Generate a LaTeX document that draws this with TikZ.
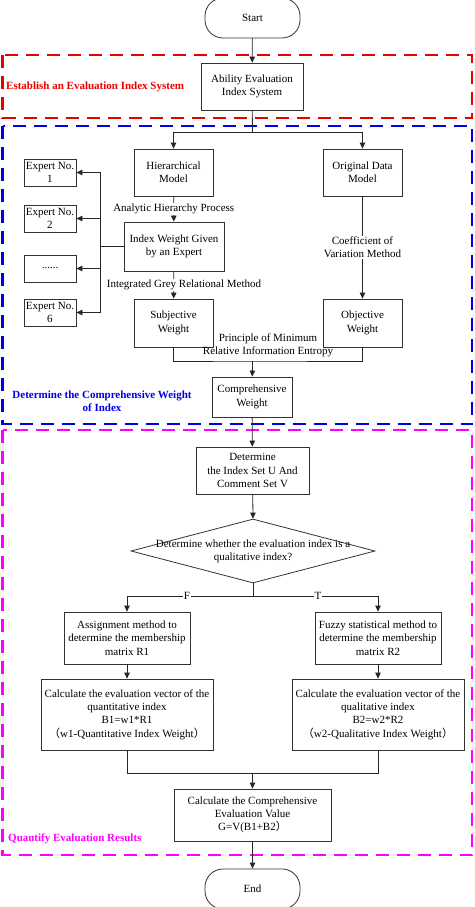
\documentclass[tikz,border=0pt]{standalone}
\usepackage{fontspec}
\setmainfont{Liberation Serif}
\newfontfamily\cjk{Noto Sans CJK SC}
\usetikzlibrary{arrows.meta,shapes.geometric}
\tikzset{
  box/.style={draw=black!80, line width=0.8pt, fill=white, align=center, inner sep=1pt},
  term/.style={box, rounded corners=18pt, minimum width=95pt, minimum height=40pt},
  arr/.style={draw=black!85, line width=0.8pt, -{Triangle[length=6pt,width=5.5pt]}},
  ln/.style={draw=black!85, line width=0.8pt},
  lab/.style={fill=white, inner sep=1pt, align=center},
  region/.style={line width=2.8pt, dash pattern=on 13pt off 8pt},
  rlab/.style={font=\fontsize{11}{13.3}\selectfont\bfseries, align=center, inner sep=0pt}
}
\begin{document}
\begin{tikzpicture}[x=1pt, y=-1pt, font=\fontsize{11}{13.3}\selectfont]
\useasboundingbox (0,0) rectangle (474,907);
% regions
\draw[region, draw={rgb,255:red,235;green,0;blue,0}] (2.5,55) rectangle (472,118);
\draw[region, draw={rgb,255:red,0;green,0;blue,230}] (2.5,126) rectangle (472,424);
\draw[region, draw={rgb,255:red,255;green,0;blue,255}] (2.5,430) rectangle (472,855);
\node[rlab, anchor=west, text={rgb,255:red,235;green,0;blue,0}] (l1) at (6,87) {Establish an Evaluation Index System};
\node[rlab, text={rgb,255:red,0;green,0;blue,230}] (l2) at (102,401.5) {Determine the Comprehensive Weight\\of Index};
\node[rlab, anchor=west, text={rgb,255:red,255;green,0;blue,255}] (l3) at (8,839) {Quantify Evaluation Results};
% nodes
\node[term] (start) at (252.5,18) {Start};
\node[box, minimum width=102pt, minimum height=47pt] (ability) at (252,86.5) {Ability Evaluation\\Index System};
\node[box, minimum width=79pt, minimum height=47pt] (hier) at (173.5,172.5) {Hierarchical\\Model};
\node[box, minimum width=79pt, minimum height=47pt] (orig) at (362.5,172.5) {Original Data\\Model};
\node[box, minimum width=100pt, minimum height=49pt] (iwe) at (174,246.5) {Index Weight Given\\by an Expert};
\node[box, minimum width=79pt, minimum height=48pt] (subj) at (173.5,323) {Subjective\\Weight};
\node[box, minimum width=79pt, minimum height=48pt] (obj) at (362.5,323) {Objective\\Weight};
\node[box, minimum width=52pt, minimum height=27pt] (e1) at (50,172.5) {Expert No.\\1};
\node[box, minimum width=52pt, minimum height=27pt] (e2) at (50,218.5) {Expert No.\\2};
\node[box, minimum width=52pt, minimum height=27pt] (edots) at (50,268.5) {......};
\node[box, minimum width=52pt, minimum height=27pt] (e6) at (50,312.5) {Expert No.\\6};
\node[box, minimum width=80pt, minimum height=40pt] (comp) at (252,397) {Comprehensive\\Weight};
\node[box, minimum width=113pt, minimum height=47pt] (det) at (252.5,470.5) {Determine\\the Index Set U And\\Comment Set V};
\node[diamond, draw=black!80, line width=0.8pt, fill=white, minimum width=244pt, minimum height=64pt, inner sep=0pt] (dia) at (253,551) {};
\node[align=center, inner sep=0pt] (diat) at (dia.center) {Determine whether the evaluation index is a\\qualitative index?};
\node[box, minimum width=126pt, minimum height=52pt] (assign) at (127,638) {Assignment method to\\determine the membership\\matrix R1};
\node[box, minimum width=126pt, minimum height=52pt] (fuzzy) at (378,638) {Fuzzy statistical method to\\determine the membership\\matrix R2};
\node[box, minimum width=172pt, minimum height=71pt] (calcL) at (127,714.5) {Calculate the evaluation vector of the\\quantitative index\\B1=w1*R1\\{\cjk （}w1-Quantitative Index Weight{\cjk ）}};
\node[box, minimum width=172pt, minimum height=71pt] (calcR) at (378,714.5) {Calculate the evaluation vector of the\\qualitative index\\B2=w2*R2\\{\cjk （}w2-Qualitative Index Weight{\cjk ）}};
\node[box, minimum width=157pt, minimum height=52pt] (final) at (252.5,815) {Calculate the Comprehensive\\Evaluation Value\\G=V(B1+B2{\cjk ）}};
\node[term] (end) at (252.5,889) {End};
% coordinates
\coordinate (b1) at (252.5,132);
\coordinate (tr) at (100,246.5);
\coordinate (jw) at (252.5,361);
\coordinate (jd) at (253,596);
\coordinate (jc) at (252.5,773);
% connectors
\draw[arr] (start) -- (ability);
\draw[ln] (ability) -- (b1);
\draw[arr] (b1) -| (hier);
\draw[arr] (b1) -| (orig);
\draw[arr] (hier) -- (iwe) node[lab, midway] (ahp) {Analytic Hierarchy Process};
\draw[arr] (iwe) -- (subj);
\node[lab] (igr) at (184,285) {Integrated Grey Relational Method};
\draw[arr] (orig) -- (obj) node[lab, pos=0.5] (cvm) {Coefficient of\\Variation Method};
\draw[ln] (iwe.west) -- (tr);
\draw[arr] (tr) |- (e1);
\draw[arr] (tr) |- (e2);
\draw[arr] (tr) |- (edots);
\draw[arr] (tr) |- (e6);
\draw[ln] (subj.south) |- (jw) -| (obj.south);
\node[align=center, inner sep=0pt] (pmr) at (268,345) {Principle of Minimum\\Relative Information Entropy};
\draw[arr] (jw) -- (comp);
\draw[arr] (comp) -- (det);
\draw[arr] (det) -- (dia.north);
\draw[ln] (dia.south) -- (jd);
\draw[arr] (jd) -| (assign.north);
\draw[arr] (jd) -| (fuzzy.north);
\node[lab] (fl) at (187,596) {F};
\node[lab] (tl) at (318,596) {T};
\draw[arr] (assign) -- (calcL);
\draw[arr] (fuzzy) -- (calcR);
\draw[ln] (calcL.south) |- (jc) -| (calcR.south);
\draw[arr] (jc) -- (final);
\draw[arr] (final) -- (end);
\end{tikzpicture}
\end{document}
